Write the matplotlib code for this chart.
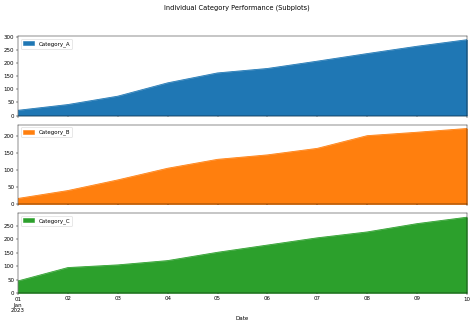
import pandas as pd
import matplotlib
matplotlib.use("Agg")
import matplotlib.pyplot as plt

dates = pd.date_range("2023-01-01", periods=10, freq="D")
category_a = [20, 42, 74, 125, 163, 180, 208, 237, 265, 290]
category_b = [17, 40, 71, 105, 131, 144, 163, 200, 210, 221]
category_c = [45, 95, 105, 121, 152, 179, 206, 228, 259, 283]

df = pd.DataFrame({"Category_A": category_a,
                   "Category_B": category_b,
                   "Category_C": category_c}, index=dates)
df.index.name = "Date"

axes = df.plot.area(subplots=True, figsize=(12, 8.28), legend=True)
for ax in axes:
    ax.legend(loc="upper left")
fig = axes[0].get_figure()
fig.suptitle("Individual Category Performance (Subplots)", y=0.985)
fig.subplots_adjust(left=0.038, right=0.985, top=0.89, bottom=0.104, hspace=0.115)
fig.savefig("out.png", dpi=39.5)
